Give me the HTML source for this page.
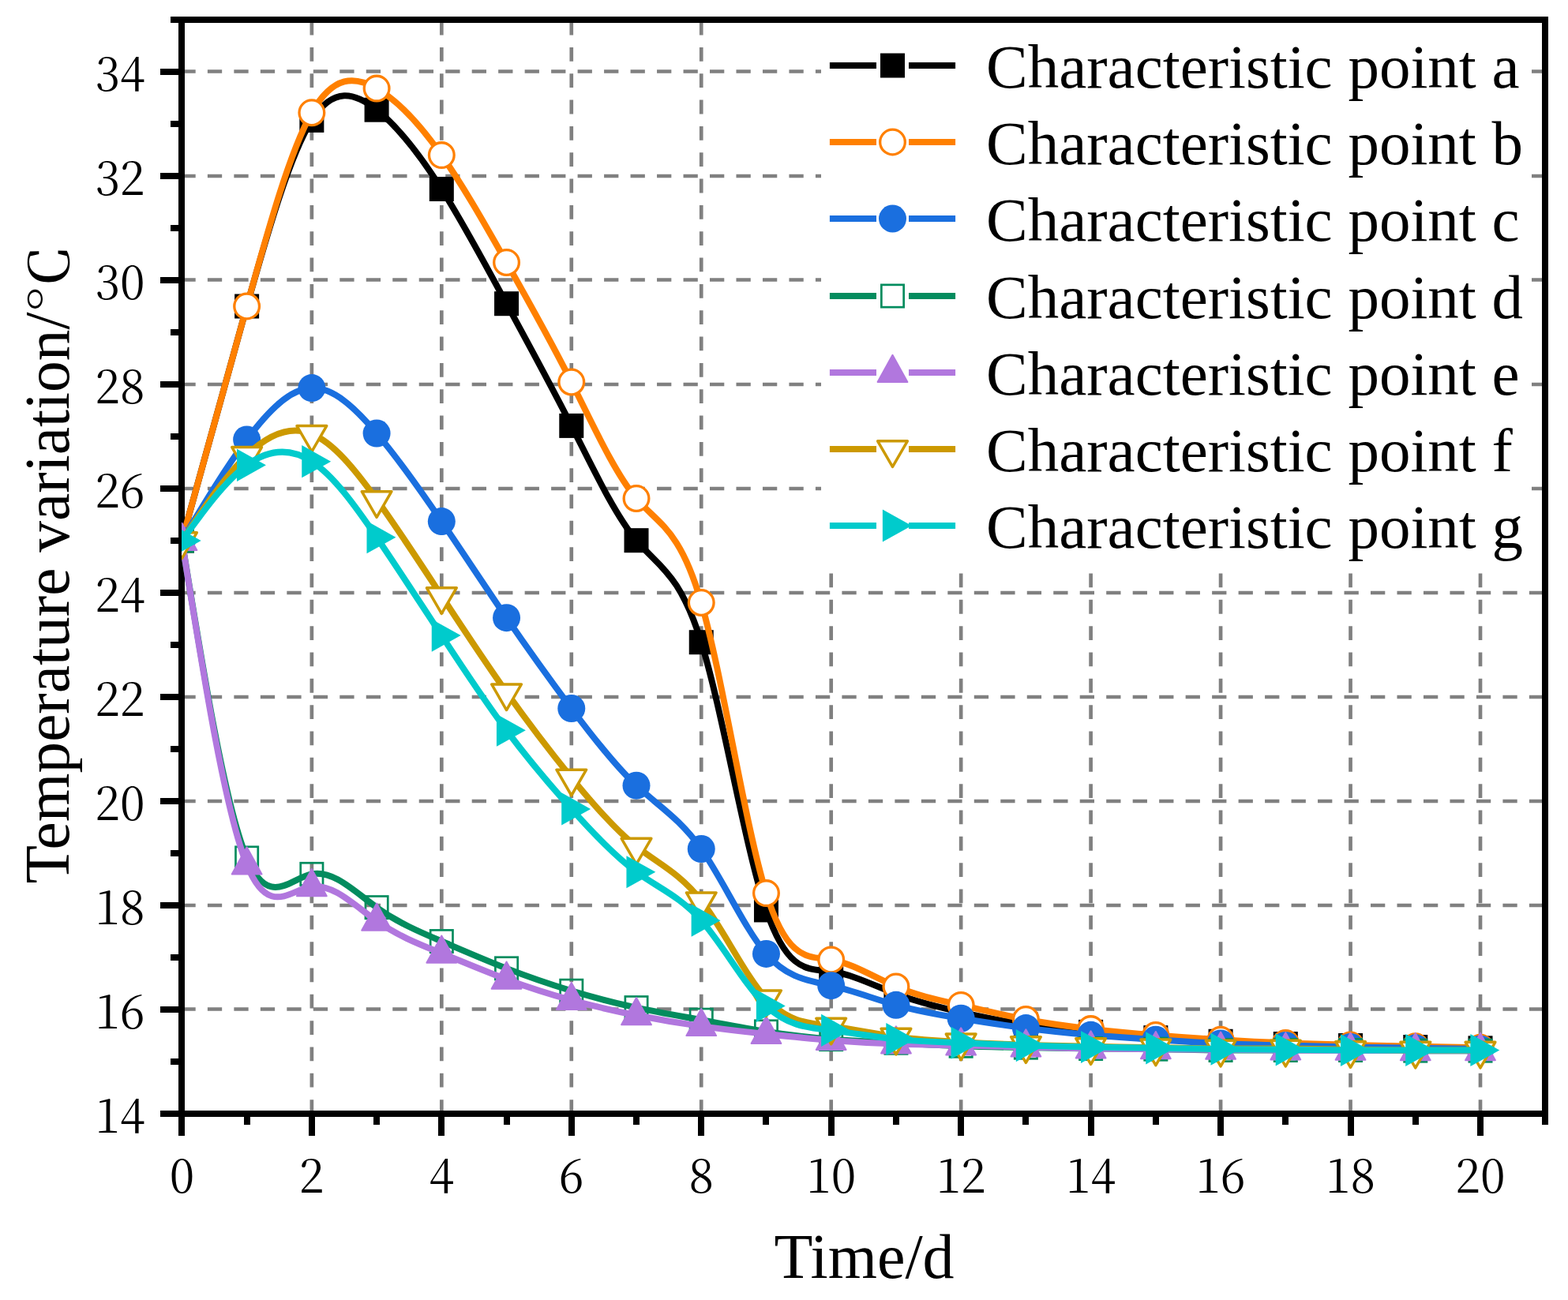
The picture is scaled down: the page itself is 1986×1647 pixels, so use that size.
<!DOCTYPE html>
<html lang="en"><head><meta charset="utf-8"><title>Temperature variation of characteristic points</title>
<style>html,body{margin:0;padding:0;background:#fff}body{width:1986px;height:1647px;overflow:hidden}figure{margin:0;padding:0;width:1986px;height:1647px}svg{display:block}text{font-family:"Liberation Serif","Noto Serif CJK SC",serif;fill:#000}.n{font-family:"Noto Serif CJK SC","Liberation Serif",serif;font-size:60px}.l{font-size:79px}.t{font-size:80px}</style></head><body>
<figure><svg width="1986" height="1647" viewBox="0 0 1986 1647" role="img" aria-label="Temperature variation of characteristic points a to g over time">
<rect width="1986" height="1647" fill="#fff"/>
<defs><clipPath id="plot"><rect x="230" y="25" width="1727" height="1386"/></clipPath></defs>
<g stroke="#808080" fill="none" stroke-width="4.67"><path d="M394.86 26.6 V1411" stroke-dasharray="17.8 15.53"/><path d="M559.32 26.6 V1411" stroke-dasharray="17.8 15.53"/><path d="M723.78 26.6 V1411" stroke-dasharray="17.8 15.53"/><path d="M888.24 26.6 V1411" stroke-dasharray="17.8 15.53"/><path d="M1052.7 26.6 V1411" stroke-dasharray="17.8 15.53"/><path d="M1217.16 26.6 V1411" stroke-dasharray="17.8 15.53"/><path d="M1381.62 26.6 V1411" stroke-dasharray="17.8 15.53"/><path d="M1546.08 26.6 V1411" stroke-dasharray="17.8 15.53"/><path d="M1710.54 26.6 V1411" stroke-dasharray="17.8 15.53"/><path d="M1875 26.6 V1411" stroke-dasharray="17.8 15.53"/><path d="M229.4 1278.5 H1957" stroke-width="4.5" stroke-dasharray="18.3 15.18"/><path d="M229.4 1147 H1957" stroke-width="4.5" stroke-dasharray="18.3 15.18"/><path d="M229.4 1015 H1957" stroke-width="4.5" stroke-dasharray="18.3 15.18"/><path d="M229.4 883 H1957" stroke-width="4.5" stroke-dasharray="18.3 15.18"/><path d="M229.4 751 H1957" stroke-width="4.5" stroke-dasharray="18.3 15.18"/><path d="M229.4 619 H1957" stroke-width="4.5" stroke-dasharray="18.3 15.18"/><path d="M229.4 487 H1957" stroke-width="4.5" stroke-dasharray="18.3 15.18"/><path d="M229.4 354.6 H1957" stroke-width="4.5" stroke-dasharray="18.3 15.18"/><path d="M229.4 223 H1957" stroke-width="4.5" stroke-dasharray="18.3 15.18"/><path d="M229.4 90.6 H1957" stroke-width="4.5" stroke-dasharray="18.3 15.18"/></g>
<rect x="1040" y="29" width="900" height="697" fill="#fff"/>
<g stroke="#000" stroke-width="8" fill="none" stroke-linecap="butt"><rect x="230" y="25" width="1727" height="1386"/><path d="M230 1411 V1439M313 1411 V1425M395 1411 V1439M477 1411 V1425M559 1411 V1439M642 1411 V1425M724 1411 V1439M806 1411 V1425M888 1411 V1439M970 1411 V1425M1053 1411 V1439M1135 1411 V1425M1217 1411 V1439M1299 1411 V1425M1382 1411 V1439M1464 1411 V1425M1546 1411 V1439M1628 1411 V1425M1711 1411 V1439M1793 1411 V1425M1875 1411 V1439M1957 1411 V1425M230 1411 H203M230 1345 H216M230 1279 H203M230 1213 H216M230 1147 H203M230 1081 H216M230 1015 H203M230 949 H216M230 883 H203M230 817 H216M230 751 H203M230 685 H216M230 619 H203M230 553 H216M230 487 H203M230 421 H216M230 355 H203M230 289 H216M230 223 H203M230 157 H216M230 91 H203M230 25 H216"/></g>
<g clip-path="url(#plot)">
<path d="M230.4 685C257.81 585.19 285.22 485.37 312.63 388C340.04 290.63 367.45 195.69 394.86 152.38C422.27 109.07 449.68 117.39 477.09 139.18C504.5 160.97 531.91 196.22 559.32 239.5C586.73 282.78 614.14 334.07 641.55 384.7C668.96 435.33 696.37 485.3 723.78 539.4C751.19 593.51 778.6 651.75 806.01 684.67C833.42 717.59 860.83 725.17 888.24 813.7C915.65 902.23 943.06 1071.7 970.47 1152.94C997.88 1234.18 1025.29 1227.17 1052.7 1230.82C1080.11 1234.47 1107.52 1248.77 1134.93 1259.2C1162.34 1269.63 1189.75 1276.2 1217.16 1282.3C1244.57 1288.4 1271.98 1294.05 1299.39 1298.14C1326.8 1302.23 1354.21 1304.78 1381.62 1307.38C1409.03 1309.98 1436.44 1312.64 1463.85 1314.64C1491.26 1316.64 1518.67 1317.99 1546.08 1319.26C1573.49 1320.53 1600.9 1321.72 1628.31 1322.56C1655.72 1323.4 1683.13 1323.9 1710.54 1324.54C1737.95 1325.18 1765.36 1325.95 1792.77 1326.52C1820.18 1327.09 1847.59 1327.47 1875 1327.84" fill="none" stroke="#000000" stroke-width="8" stroke-linejoin="round"/>
<rect x="214.9" y="669.5" width="31" height="31" fill="#000000"/><rect x="297.13" y="372.5" width="31" height="31" fill="#000000"/><rect x="379.36" y="136.88" width="31" height="31" fill="#000000"/><rect x="461.59" y="123.68" width="31" height="31" fill="#000000"/><rect x="543.82" y="224" width="31" height="31" fill="#000000"/><rect x="626.05" y="369.2" width="31" height="31" fill="#000000"/><rect x="708.28" y="523.9" width="31" height="31" fill="#000000"/><rect x="790.51" y="669.17" width="31" height="31" fill="#000000"/><rect x="872.74" y="798.2" width="31" height="31" fill="#000000"/><rect x="954.97" y="1137.44" width="31" height="31" fill="#000000"/><rect x="1037.2" y="1215.32" width="31" height="31" fill="#000000"/><rect x="1119.43" y="1243.7" width="31" height="31" fill="#000000"/><rect x="1201.66" y="1266.8" width="31" height="31" fill="#000000"/><rect x="1283.89" y="1282.64" width="31" height="31" fill="#000000"/><rect x="1366.12" y="1291.88" width="31" height="31" fill="#000000"/><rect x="1448.35" y="1299.14" width="31" height="31" fill="#000000"/><rect x="1530.58" y="1303.76" width="31" height="31" fill="#000000"/><rect x="1612.81" y="1307.06" width="31" height="31" fill="#000000"/><rect x="1695.04" y="1309.04" width="31" height="31" fill="#000000"/><rect x="1777.27" y="1311.02" width="31" height="31" fill="#000000"/><rect x="1859.5" y="1312.34" width="31" height="31" fill="#000000"/>
<path d="M230.4 685C257.81 585.85 285.22 486.7 312.63 388C340.04 289.3 367.45 191.04 394.86 142.81C422.27 94.58 449.68 96.38 477.09 112.12C504.5 127.86 531.91 157.54 559.32 196.6C586.73 235.66 614.14 284.09 641.55 332.56C668.96 381.03 696.37 429.54 723.78 484.03C751.19 538.52 778.6 598.99 806.01 631.54C833.42 664.09 860.83 668.72 888.24 763.54C915.65 858.36 943.06 1043.37 970.47 1131.62C997.88 1219.87 1025.29 1211.36 1052.7 1215.97C1080.11 1220.58 1107.52 1238.3 1134.93 1249.96C1162.34 1261.62 1189.75 1267.22 1217.16 1273.39C1244.57 1279.56 1271.98 1286.31 1299.39 1291.54C1326.8 1296.77 1354.21 1300.5 1381.62 1303.62C1409.03 1306.74 1436.44 1309.25 1463.85 1311.47C1491.26 1313.69 1518.67 1315.61 1546.08 1317.28C1573.49 1318.95 1600.9 1320.38 1628.31 1321.44C1655.72 1322.49 1683.13 1323.18 1710.54 1323.88C1737.95 1324.58 1765.36 1325.31 1792.77 1325.86C1820.18 1326.41 1847.59 1326.8 1875 1327.18" fill="none" stroke="#ff8000" stroke-width="8" stroke-linejoin="round"/>
<circle cx="230.4" cy="685" r="15.85" fill="#fff" stroke="#ff8000" stroke-width="3.3"/><circle cx="312.63" cy="388" r="15.85" fill="#fff" stroke="#ff8000" stroke-width="3.3"/><circle cx="394.86" cy="142.81" r="15.85" fill="#fff" stroke="#ff8000" stroke-width="3.3"/><circle cx="477.09" cy="112.12" r="15.85" fill="#fff" stroke="#ff8000" stroke-width="3.3"/><circle cx="559.32" cy="196.6" r="15.85" fill="#fff" stroke="#ff8000" stroke-width="3.3"/><circle cx="641.55" cy="332.56" r="15.85" fill="#fff" stroke="#ff8000" stroke-width="3.3"/><circle cx="723.78" cy="484.03" r="15.85" fill="#fff" stroke="#ff8000" stroke-width="3.3"/><circle cx="806.01" cy="631.54" r="15.85" fill="#fff" stroke="#ff8000" stroke-width="3.3"/><circle cx="888.24" cy="763.54" r="15.85" fill="#fff" stroke="#ff8000" stroke-width="3.3"/><circle cx="970.47" cy="1131.62" r="15.85" fill="#fff" stroke="#ff8000" stroke-width="3.3"/><circle cx="1052.7" cy="1215.97" r="15.85" fill="#fff" stroke="#ff8000" stroke-width="3.3"/><circle cx="1134.93" cy="1249.96" r="15.85" fill="#fff" stroke="#ff8000" stroke-width="3.3"/><circle cx="1217.16" cy="1273.39" r="15.85" fill="#fff" stroke="#ff8000" stroke-width="3.3"/><circle cx="1299.39" cy="1291.54" r="15.85" fill="#fff" stroke="#ff8000" stroke-width="3.3"/><circle cx="1381.62" cy="1303.62" r="15.85" fill="#fff" stroke="#ff8000" stroke-width="3.3"/><circle cx="1463.85" cy="1311.47" r="15.85" fill="#fff" stroke="#ff8000" stroke-width="3.3"/><circle cx="1546.08" cy="1317.28" r="15.85" fill="#fff" stroke="#ff8000" stroke-width="3.3"/><circle cx="1628.31" cy="1321.44" r="15.85" fill="#fff" stroke="#ff8000" stroke-width="3.3"/><circle cx="1710.54" cy="1323.88" r="15.85" fill="#fff" stroke="#ff8000" stroke-width="3.3"/><circle cx="1792.77" cy="1325.86" r="15.85" fill="#fff" stroke="#ff8000" stroke-width="3.3"/><circle cx="1875" cy="1327.18" r="15.85" fill="#fff" stroke="#ff8000" stroke-width="3.3"/>
<path d="M230.4 685C257.81 639.33 285.22 593.66 312.63 556.96C340.04 520.26 367.45 492.52 394.86 491.62C422.27 490.72 449.68 516.66 477.09 549.04C504.5 581.42 531.91 620.26 559.32 660.58C586.73 700.9 614.14 742.71 641.55 782.68C668.96 822.65 696.37 860.78 723.78 897.52C751.19 934.26 778.6 969.61 806.01 995.2C833.42 1020.79 860.83 1036.62 888.24 1075.52C915.65 1114.43 943.06 1176.41 970.47 1208.38C997.88 1240.35 1025.29 1242.32 1052.7 1248.64C1080.11 1254.96 1107.52 1265.63 1134.93 1273.32C1162.34 1281.02 1189.75 1285.73 1217.16 1290.22C1244.57 1294.71 1271.98 1298.99 1299.39 1302.56C1326.8 1306.13 1354.21 1308.99 1381.62 1311.34C1409.03 1313.69 1436.44 1315.53 1463.85 1317.28C1491.26 1319.03 1518.67 1320.7 1546.08 1321.9C1573.49 1323.1 1600.9 1323.82 1628.31 1324.54C1655.72 1325.26 1683.13 1325.98 1710.54 1326.52C1737.95 1327.06 1765.36 1327.43 1792.77 1327.84C1820.18 1328.25 1847.59 1328.71 1875 1329.16" fill="none" stroke="#1a6fdf" stroke-width="8" stroke-linejoin="round"/>
<circle cx="230.4" cy="685" r="17.5" fill="#1a6fdf"/><circle cx="312.63" cy="556.96" r="17.5" fill="#1a6fdf"/><circle cx="394.86" cy="491.62" r="17.5" fill="#1a6fdf"/><circle cx="477.09" cy="549.04" r="17.5" fill="#1a6fdf"/><circle cx="559.32" cy="660.58" r="17.5" fill="#1a6fdf"/><circle cx="641.55" cy="782.68" r="17.5" fill="#1a6fdf"/><circle cx="723.78" cy="897.52" r="17.5" fill="#1a6fdf"/><circle cx="806.01" cy="995.2" r="17.5" fill="#1a6fdf"/><circle cx="888.24" cy="1075.52" r="17.5" fill="#1a6fdf"/><circle cx="970.47" cy="1208.38" r="17.5" fill="#1a6fdf"/><circle cx="1052.7" cy="1248.64" r="17.5" fill="#1a6fdf"/><circle cx="1134.93" cy="1273.32" r="17.5" fill="#1a6fdf"/><circle cx="1217.16" cy="1290.22" r="17.5" fill="#1a6fdf"/><circle cx="1299.39" cy="1302.56" r="17.5" fill="#1a6fdf"/><circle cx="1381.62" cy="1311.34" r="17.5" fill="#1a6fdf"/><circle cx="1463.85" cy="1317.28" r="17.5" fill="#1a6fdf"/><circle cx="1546.08" cy="1321.9" r="17.5" fill="#1a6fdf"/><circle cx="1628.31" cy="1324.54" r="17.5" fill="#1a6fdf"/><circle cx="1710.54" cy="1326.52" r="17.5" fill="#1a6fdf"/><circle cx="1792.77" cy="1327.84" r="17.5" fill="#1a6fdf"/><circle cx="1875" cy="1329.16" r="17.5" fill="#1a6fdf"/>
<path d="M230.4 685C257.81 853.56 285.22 1022.11 312.63 1086.94C340.04 1151.77 367.45 1112.86 394.86 1107.4C422.27 1101.94 449.68 1129.92 477.09 1149.64C504.5 1169.36 531.91 1180.83 559.32 1192.54C586.73 1204.25 614.14 1216.18 641.55 1226.86C668.96 1237.54 696.37 1246.95 723.78 1255.24C751.19 1263.53 778.6 1270.71 806.01 1276.62C833.42 1282.54 860.83 1287.18 888.24 1292.2C915.65 1297.22 943.06 1302.61 970.47 1306.92C997.88 1311.23 1025.29 1314.45 1052.7 1316.62C1080.11 1318.79 1107.52 1319.89 1134.93 1321.24C1162.34 1322.59 1189.75 1324.18 1217.16 1325.2C1244.57 1326.22 1271.98 1326.68 1299.39 1327.18C1326.8 1327.68 1354.21 1328.22 1381.62 1328.5C1409.03 1328.78 1436.44 1328.8 1463.85 1329.16C1491.26 1329.52 1518.67 1330.21 1546.08 1330.48C1573.49 1330.75 1600.9 1330.59 1628.31 1330.48C1655.72 1330.37 1683.13 1330.32 1710.54 1330.48C1737.95 1330.64 1765.36 1331 1792.77 1331.14C1820.18 1331.28 1847.59 1331.21 1875 1331.14" fill="none" stroke="#038c5e" stroke-width="8" stroke-linejoin="round"/>
<rect x="216.25" y="670.85" width="28.3" height="28.3" fill="none" stroke="#038c5e" stroke-width="2.7"/><rect x="298.48" y="1072.79" width="28.3" height="28.3" fill="none" stroke="#038c5e" stroke-width="2.7"/><rect x="380.71" y="1093.25" width="28.3" height="28.3" fill="none" stroke="#038c5e" stroke-width="2.7"/><rect x="462.94" y="1135.49" width="28.3" height="28.3" fill="none" stroke="#038c5e" stroke-width="2.7"/><rect x="545.17" y="1178.39" width="28.3" height="28.3" fill="none" stroke="#038c5e" stroke-width="2.7"/><rect x="627.4" y="1212.71" width="28.3" height="28.3" fill="none" stroke="#038c5e" stroke-width="2.7"/><rect x="709.63" y="1241.09" width="28.3" height="28.3" fill="none" stroke="#038c5e" stroke-width="2.7"/><rect x="791.86" y="1262.47" width="28.3" height="28.3" fill="none" stroke="#038c5e" stroke-width="2.7"/><rect x="874.09" y="1278.05" width="28.3" height="28.3" fill="none" stroke="#038c5e" stroke-width="2.7"/><rect x="956.32" y="1292.77" width="28.3" height="28.3" fill="none" stroke="#038c5e" stroke-width="2.7"/><rect x="1038.55" y="1302.47" width="28.3" height="28.3" fill="none" stroke="#038c5e" stroke-width="2.7"/><rect x="1120.78" y="1307.09" width="28.3" height="28.3" fill="none" stroke="#038c5e" stroke-width="2.7"/><rect x="1203.01" y="1311.05" width="28.3" height="28.3" fill="none" stroke="#038c5e" stroke-width="2.7"/><rect x="1285.24" y="1313.03" width="28.3" height="28.3" fill="none" stroke="#038c5e" stroke-width="2.7"/><rect x="1367.47" y="1314.35" width="28.3" height="28.3" fill="none" stroke="#038c5e" stroke-width="2.7"/><rect x="1449.7" y="1315.01" width="28.3" height="28.3" fill="none" stroke="#038c5e" stroke-width="2.7"/><rect x="1531.93" y="1316.33" width="28.3" height="28.3" fill="none" stroke="#038c5e" stroke-width="2.7"/><rect x="1614.16" y="1316.33" width="28.3" height="28.3" fill="none" stroke="#038c5e" stroke-width="2.7"/><rect x="1696.39" y="1316.33" width="28.3" height="28.3" fill="none" stroke="#038c5e" stroke-width="2.7"/><rect x="1778.62" y="1316.99" width="28.3" height="28.3" fill="none" stroke="#038c5e" stroke-width="2.7"/><rect x="1860.85" y="1316.99" width="28.3" height="28.3" fill="none" stroke="#038c5e" stroke-width="2.7"/>
<path d="M230.4 685C257.81 856.42 285.22 1027.83 312.63 1095.52C340.04 1163.21 367.45 1127.17 394.86 1123.24C422.27 1119.31 449.68 1147.47 477.09 1166.8C504.5 1186.13 531.91 1196.62 559.32 1207.72C586.73 1218.82 614.14 1230.51 641.55 1240.72C668.96 1250.93 696.37 1259.64 723.78 1267.12C751.19 1274.6 778.6 1280.84 806.01 1286.26C833.42 1291.68 860.83 1296.27 888.24 1300.12C915.65 1303.97 943.06 1307.07 970.47 1310.02C997.88 1312.97 1025.29 1315.79 1052.7 1317.94C1080.11 1320.09 1107.52 1321.59 1134.93 1322.56C1162.34 1323.53 1189.75 1323.98 1217.16 1324.54C1244.57 1325.1 1271.98 1325.78 1299.39 1326.52C1326.8 1327.26 1354.21 1328.06 1381.62 1328.5C1409.03 1328.94 1436.44 1329 1463.85 1329.16C1491.26 1329.32 1518.67 1329.57 1546.08 1329.82C1573.49 1330.07 1600.9 1330.32 1628.31 1330.48C1655.72 1330.64 1683.13 1330.7 1710.54 1330.81C1737.95 1330.92 1765.36 1331.08 1792.77 1331.14C1820.18 1331.2 1847.59 1331.17 1875 1331.14" fill="none" stroke="#b177de" stroke-width="8" stroke-linejoin="round"/>
<polygon points="230.4,662.77 249.31,697 211.49,697" fill="#b177de" stroke="#b177de" stroke-width="2.0" stroke-linejoin="round"/><polygon points="312.63,1073.29 331.54,1107.52 293.72,1107.52" fill="#b177de" stroke="#b177de" stroke-width="2.0" stroke-linejoin="round"/><polygon points="394.86,1101.01 413.77,1135.24 375.95,1135.24" fill="#b177de" stroke="#b177de" stroke-width="2.0" stroke-linejoin="round"/><polygon points="477.09,1144.57 496,1178.8 458.18,1178.8" fill="#b177de" stroke="#b177de" stroke-width="2.0" stroke-linejoin="round"/><polygon points="559.32,1185.49 578.23,1219.72 540.41,1219.72" fill="#b177de" stroke="#b177de" stroke-width="2.0" stroke-linejoin="round"/><polygon points="641.55,1218.49 660.46,1252.72 622.64,1252.72" fill="#b177de" stroke="#b177de" stroke-width="2.0" stroke-linejoin="round"/><polygon points="723.78,1244.89 742.69,1279.12 704.87,1279.12" fill="#b177de" stroke="#b177de" stroke-width="2.0" stroke-linejoin="round"/><polygon points="806.01,1264.03 824.92,1298.26 787.1,1298.26" fill="#b177de" stroke="#b177de" stroke-width="2.0" stroke-linejoin="round"/><polygon points="888.24,1277.89 907.15,1312.12 869.33,1312.12" fill="#b177de" stroke="#b177de" stroke-width="2.0" stroke-linejoin="round"/><polygon points="970.47,1287.79 989.38,1322.02 951.56,1322.02" fill="#b177de" stroke="#b177de" stroke-width="2.0" stroke-linejoin="round"/><polygon points="1052.7,1295.71 1071.61,1329.94 1033.79,1329.94" fill="#b177de" stroke="#b177de" stroke-width="2.0" stroke-linejoin="round"/><polygon points="1134.93,1300.33 1153.84,1334.56 1116.02,1334.56" fill="#b177de" stroke="#b177de" stroke-width="2.0" stroke-linejoin="round"/><polygon points="1217.16,1302.31 1236.07,1336.54 1198.25,1336.54" fill="#b177de" stroke="#b177de" stroke-width="2.0" stroke-linejoin="round"/><polygon points="1299.39,1304.29 1318.3,1338.52 1280.48,1338.52" fill="#b177de" stroke="#b177de" stroke-width="2.0" stroke-linejoin="round"/><polygon points="1381.62,1306.27 1400.53,1340.5 1362.71,1340.5" fill="#b177de" stroke="#b177de" stroke-width="2.0" stroke-linejoin="round"/><polygon points="1463.85,1306.93 1482.76,1341.16 1444.94,1341.16" fill="#b177de" stroke="#b177de" stroke-width="2.0" stroke-linejoin="round"/><polygon points="1546.08,1307.59 1564.99,1341.82 1527.17,1341.82" fill="#b177de" stroke="#b177de" stroke-width="2.0" stroke-linejoin="round"/><polygon points="1628.31,1308.25 1647.22,1342.48 1609.4,1342.48" fill="#b177de" stroke="#b177de" stroke-width="2.0" stroke-linejoin="round"/><polygon points="1710.54,1308.58 1729.45,1342.81 1691.63,1342.81" fill="#b177de" stroke="#b177de" stroke-width="2.0" stroke-linejoin="round"/><polygon points="1792.77,1308.91 1811.68,1343.14 1773.86,1343.14" fill="#b177de" stroke="#b177de" stroke-width="2.0" stroke-linejoin="round"/><polygon points="1875,1308.91 1893.91,1343.14 1856.09,1343.14" fill="#b177de" stroke="#b177de" stroke-width="2.0" stroke-linejoin="round"/>
<path d="M230.4 685C257.81 644.06 285.22 603.12 312.63 576.76C340.04 550.4 367.45 538.6 394.86 549.7C422.27 560.8 449.68 594.78 477.09 632.86C504.5 670.94 531.91 713.1 559.32 754.96C586.73 796.82 614.14 838.38 641.55 877.06C668.96 915.74 696.37 951.55 723.78 985.3C751.19 1019.05 778.6 1050.72 806.01 1072.42C833.42 1094.12 860.83 1105.83 888.24 1141.06C915.65 1176.29 943.06 1235.04 970.47 1265.14C997.88 1295.24 1025.29 1296.69 1052.7 1300.32C1080.11 1303.94 1107.52 1309.74 1134.93 1313.45C1162.34 1317.17 1189.75 1318.8 1217.16 1320.25C1244.57 1321.7 1271.98 1322.96 1299.39 1323.88C1326.8 1324.8 1354.21 1325.39 1381.62 1325.86C1409.03 1326.33 1436.44 1326.68 1463.85 1327.18C1491.26 1327.68 1518.67 1328.34 1546.08 1328.5C1573.49 1328.66 1600.9 1328.32 1628.31 1328.5C1655.72 1328.68 1683.13 1329.39 1710.54 1329.82C1737.95 1330.25 1765.36 1330.42 1792.77 1330.48C1820.18 1330.54 1847.59 1330.51 1875 1330.48" fill="none" stroke="#cc9900" stroke-width="8" stroke-linejoin="round"/>
<polygon points="230.4,707.45 249.25,674.85 211.55,674.85" fill="#fff" stroke="#cc9900" stroke-width="3.5" stroke-linejoin="round"/><polygon points="312.63,599.21 331.48,566.61 293.78,566.61" fill="#fff" stroke="#cc9900" stroke-width="3.5" stroke-linejoin="round"/><polygon points="394.86,572.15 413.71,539.55 376.01,539.55" fill="#fff" stroke="#cc9900" stroke-width="3.5" stroke-linejoin="round"/><polygon points="477.09,655.31 495.94,622.71 458.24,622.71" fill="#fff" stroke="#cc9900" stroke-width="3.5" stroke-linejoin="round"/><polygon points="559.32,777.41 578.17,744.81 540.47,744.81" fill="#fff" stroke="#cc9900" stroke-width="3.5" stroke-linejoin="round"/><polygon points="641.55,899.51 660.4,866.91 622.7,866.91" fill="#fff" stroke="#cc9900" stroke-width="3.5" stroke-linejoin="round"/><polygon points="723.78,1007.75 742.63,975.15 704.93,975.15" fill="#fff" stroke="#cc9900" stroke-width="3.5" stroke-linejoin="round"/><polygon points="806.01,1094.87 824.86,1062.27 787.16,1062.27" fill="#fff" stroke="#cc9900" stroke-width="3.5" stroke-linejoin="round"/><polygon points="888.24,1163.51 907.09,1130.91 869.39,1130.91" fill="#fff" stroke="#cc9900" stroke-width="3.5" stroke-linejoin="round"/><polygon points="970.47,1287.59 989.32,1254.99 951.62,1254.99" fill="#fff" stroke="#cc9900" stroke-width="3.5" stroke-linejoin="round"/><polygon points="1052.7,1322.77 1071.55,1290.17 1033.85,1290.17" fill="#fff" stroke="#cc9900" stroke-width="3.5" stroke-linejoin="round"/><polygon points="1134.93,1335.9 1153.78,1303.3 1116.08,1303.3" fill="#fff" stroke="#cc9900" stroke-width="3.5" stroke-linejoin="round"/><polygon points="1217.16,1342.7 1236.01,1310.1 1198.31,1310.1" fill="#fff" stroke="#cc9900" stroke-width="3.5" stroke-linejoin="round"/><polygon points="1299.39,1346.33 1318.24,1313.73 1280.54,1313.73" fill="#fff" stroke="#cc9900" stroke-width="3.5" stroke-linejoin="round"/><polygon points="1381.62,1348.31 1400.47,1315.71 1362.77,1315.71" fill="#fff" stroke="#cc9900" stroke-width="3.5" stroke-linejoin="round"/><polygon points="1463.85,1349.63 1482.7,1317.03 1445,1317.03" fill="#fff" stroke="#cc9900" stroke-width="3.5" stroke-linejoin="round"/><polygon points="1546.08,1350.95 1564.93,1318.35 1527.23,1318.35" fill="#fff" stroke="#cc9900" stroke-width="3.5" stroke-linejoin="round"/><polygon points="1628.31,1350.95 1647.16,1318.35 1609.46,1318.35" fill="#fff" stroke="#cc9900" stroke-width="3.5" stroke-linejoin="round"/><polygon points="1710.54,1352.27 1729.39,1319.67 1691.69,1319.67" fill="#fff" stroke="#cc9900" stroke-width="3.5" stroke-linejoin="round"/><polygon points="1792.77,1352.93 1811.62,1320.33 1773.92,1320.33" fill="#fff" stroke="#cc9900" stroke-width="3.5" stroke-linejoin="round"/><polygon points="1875,1352.93 1893.85,1320.33 1856.15,1320.33" fill="#fff" stroke="#cc9900" stroke-width="3.5" stroke-linejoin="round"/>
<path d="M230.4 685C257.81 647.19 285.22 609.39 312.63 589.3C340.04 569.21 367.45 566.85 394.86 584.68C422.27 602.51 449.68 640.53 477.09 680.71C504.5 720.89 531.91 763.23 559.32 805.12C586.73 847.01 614.14 888.44 641.55 925.24C668.96 962.04 696.37 994.2 723.78 1024.9C751.19 1055.6 778.6 1084.84 806.01 1104.76C833.42 1124.68 860.83 1135.29 888.24 1166.14C915.65 1196.99 943.06 1248.1 970.47 1274.38C997.88 1300.66 1025.29 1302.13 1052.7 1305.4C1080.11 1308.67 1107.52 1313.73 1134.93 1316.62C1162.34 1319.51 1189.75 1320.22 1217.16 1321.24C1244.57 1322.26 1271.98 1323.59 1299.39 1324.54C1326.8 1325.49 1354.21 1326.05 1381.62 1326.52C1409.03 1326.99 1436.44 1327.38 1463.85 1327.84C1491.26 1328.3 1518.67 1328.83 1546.08 1329.16C1573.49 1329.49 1600.9 1329.6 1628.31 1329.82C1655.72 1330.04 1683.13 1330.36 1710.54 1330.48C1737.95 1330.6 1765.36 1330.51 1792.77 1330.48C1820.18 1330.45 1847.59 1330.46 1875 1330.48" fill="none" stroke="#00cbcc" stroke-width="8" stroke-linejoin="round"/>
<polygon points="254.7,685 217.8,664.4 217.8,705.6" fill="#00cbcc"/><polygon points="336.93,589.3 300.03,568.7 300.03,609.9" fill="#00cbcc"/><polygon points="419.16,584.68 382.26,564.08 382.26,605.28" fill="#00cbcc"/><polygon points="501.39,680.71 464.49,660.11 464.49,701.31" fill="#00cbcc"/><polygon points="583.62,805.12 546.72,784.52 546.72,825.72" fill="#00cbcc"/><polygon points="665.85,925.24 628.95,904.64 628.95,945.84" fill="#00cbcc"/><polygon points="748.08,1024.9 711.18,1004.3 711.18,1045.5" fill="#00cbcc"/><polygon points="830.31,1104.76 793.41,1084.16 793.41,1125.36" fill="#00cbcc"/><polygon points="912.54,1166.14 875.64,1145.54 875.64,1186.74" fill="#00cbcc"/><polygon points="994.77,1274.38 957.87,1253.78 957.87,1294.98" fill="#00cbcc"/><polygon points="1077,1305.4 1040.1,1284.8 1040.1,1326" fill="#00cbcc"/><polygon points="1159.23,1316.62 1122.33,1296.02 1122.33,1337.22" fill="#00cbcc"/><polygon points="1241.46,1321.24 1204.56,1300.64 1204.56,1341.84" fill="#00cbcc"/><polygon points="1323.69,1324.54 1286.79,1303.94 1286.79,1345.14" fill="#00cbcc"/><polygon points="1405.92,1326.52 1369.02,1305.92 1369.02,1347.12" fill="#00cbcc"/><polygon points="1488.15,1327.84 1451.25,1307.24 1451.25,1348.44" fill="#00cbcc"/><polygon points="1570.38,1329.16 1533.48,1308.56 1533.48,1349.76" fill="#00cbcc"/><polygon points="1652.61,1329.82 1615.71,1309.22 1615.71,1350.42" fill="#00cbcc"/><polygon points="1734.84,1330.48 1697.94,1309.88 1697.94,1351.08" fill="#00cbcc"/><polygon points="1817.07,1330.48 1780.17,1309.88 1780.17,1351.08" fill="#00cbcc"/><polygon points="1899.3,1330.48 1862.4,1309.88 1862.4,1351.08" fill="#00cbcc"/>
</g>
<path d="M1050.9 83 H1110M1151 83 H1210.1" stroke="#000000" stroke-width="8" fill="none"/>
<rect x="1115" y="67.5" width="31" height="31" fill="#000000"/>
<text class="l" x="1249" y="110.8">Characteristic point a</text>
<path d="M1050.9 180 H1110M1151 180 H1210.1" stroke="#ff8000" stroke-width="8" fill="none"/>
<circle cx="1130.5" cy="180" r="15.85" fill="#fff" stroke="#ff8000" stroke-width="3.3"/>
<text class="l" x="1249" y="208.05">Characteristic point b</text>
<path d="M1050.9 277 H1110M1151 277 H1210.1" stroke="#1a6fdf" stroke-width="8" fill="none"/>
<circle cx="1130.5" cy="277" r="17.5" fill="#1a6fdf"/>
<text class="l" x="1249" y="305.3">Characteristic point c</text>
<path d="M1050.9 375 H1110M1151 375 H1210.1" stroke="#038c5e" stroke-width="8" fill="none"/>
<rect x="1116.35" y="360.85" width="28.3" height="28.3" fill="none" stroke="#038c5e" stroke-width="2.7"/>
<text class="l" x="1249" y="402.55">Characteristic point d</text>
<path d="M1050.9 472 H1110M1151 472 H1210.1" stroke="#b177de" stroke-width="8" fill="none"/>
<polygon points="1130.5,449.77 1149.41,484 1111.59,484" fill="#b177de" stroke="#b177de" stroke-width="2.0" stroke-linejoin="round"/>
<text class="l" x="1249" y="499.8">Characteristic point e</text>
<path d="M1050.9 569 H1110M1151 569 H1210.1" stroke="#cc9900" stroke-width="8" fill="none"/>
<polygon points="1130.5,591.45 1149.35,558.85 1111.65,558.85" fill="#fff" stroke="#cc9900" stroke-width="3.5" stroke-linejoin="round"/>
<text class="l" x="1249" y="597.05">Characteristic point f</text>
<path d="M1050.9 666 H1110M1151 666 H1210.1" stroke="#00cbcc" stroke-width="8" fill="none"/>
<polygon points="1154.8,666 1117.9,645.4 1117.9,686.6" fill="#00cbcc"/>
<text class="l" x="1249" y="694.3">Characteristic point g</text>
<text class="n" text-anchor="middle" transform="translate(230.4 1510.5) scale(0.955 1)">0</text>
<text class="n" text-anchor="middle" transform="translate(394.86 1510.5) scale(0.955 1)">2</text>
<text class="n" text-anchor="middle" transform="translate(559.32 1510.5) scale(0.955 1)">4</text>
<text class="n" text-anchor="middle" transform="translate(723.78 1510.5) scale(0.955 1)">6</text>
<text class="n" text-anchor="middle" transform="translate(888.24 1510.5) scale(0.955 1)">8</text>
<text class="n" text-anchor="middle" transform="translate(1052.7 1510.5) scale(0.955 1)">10</text>
<text class="n" text-anchor="middle" transform="translate(1217.16 1510.5) scale(0.955 1)">12</text>
<text class="n" text-anchor="middle" transform="translate(1381.62 1510.5) scale(0.955 1)">14</text>
<text class="n" text-anchor="middle" transform="translate(1546.08 1510.5) scale(0.955 1)">16</text>
<text class="n" text-anchor="middle" transform="translate(1710.54 1510.5) scale(0.955 1)">18</text>
<text class="n" text-anchor="middle" transform="translate(1875 1510.5) scale(0.955 1)">20</text>
<text class="n" text-anchor="end" transform="translate(183.5 1434.5) scale(0.955 1)">14</text>
<text class="n" text-anchor="end" transform="translate(183.5 1302.5) scale(0.955 1)">16</text>
<text class="n" text-anchor="end" transform="translate(183.5 1170.5) scale(0.955 1)">18</text>
<text class="n" text-anchor="end" transform="translate(183.5 1038.5) scale(0.955 1)">20</text>
<text class="n" text-anchor="end" transform="translate(183.5 906.5) scale(0.955 1)">22</text>
<text class="n" text-anchor="end" transform="translate(183.5 774.5) scale(0.955 1)">24</text>
<text class="n" text-anchor="end" transform="translate(183.5 642.5) scale(0.955 1)">26</text>
<text class="n" text-anchor="end" transform="translate(183.5 510.5) scale(0.955 1)">28</text>
<text class="n" text-anchor="end" transform="translate(183.5 378.5) scale(0.955 1)">30</text>
<text class="n" text-anchor="end" transform="translate(183.5 246.5) scale(0.955 1)">32</text>
<text class="n" text-anchor="end" transform="translate(183.5 114.5) scale(0.955 1)">34</text>
<text class="t" text-anchor="middle" x="1094.5" y="1619">Time/d</text>
<g transform="translate(86.5 1119.5) rotate(-90)"><text class="t" style="font-size:79.4px" x="0" y="0">Temperature variation/</text><text class="n" style="font-size:68px" transform="translate(721.9 0) scale(1.3 1)">℃</text></g>
</svg></figure></body></html>
